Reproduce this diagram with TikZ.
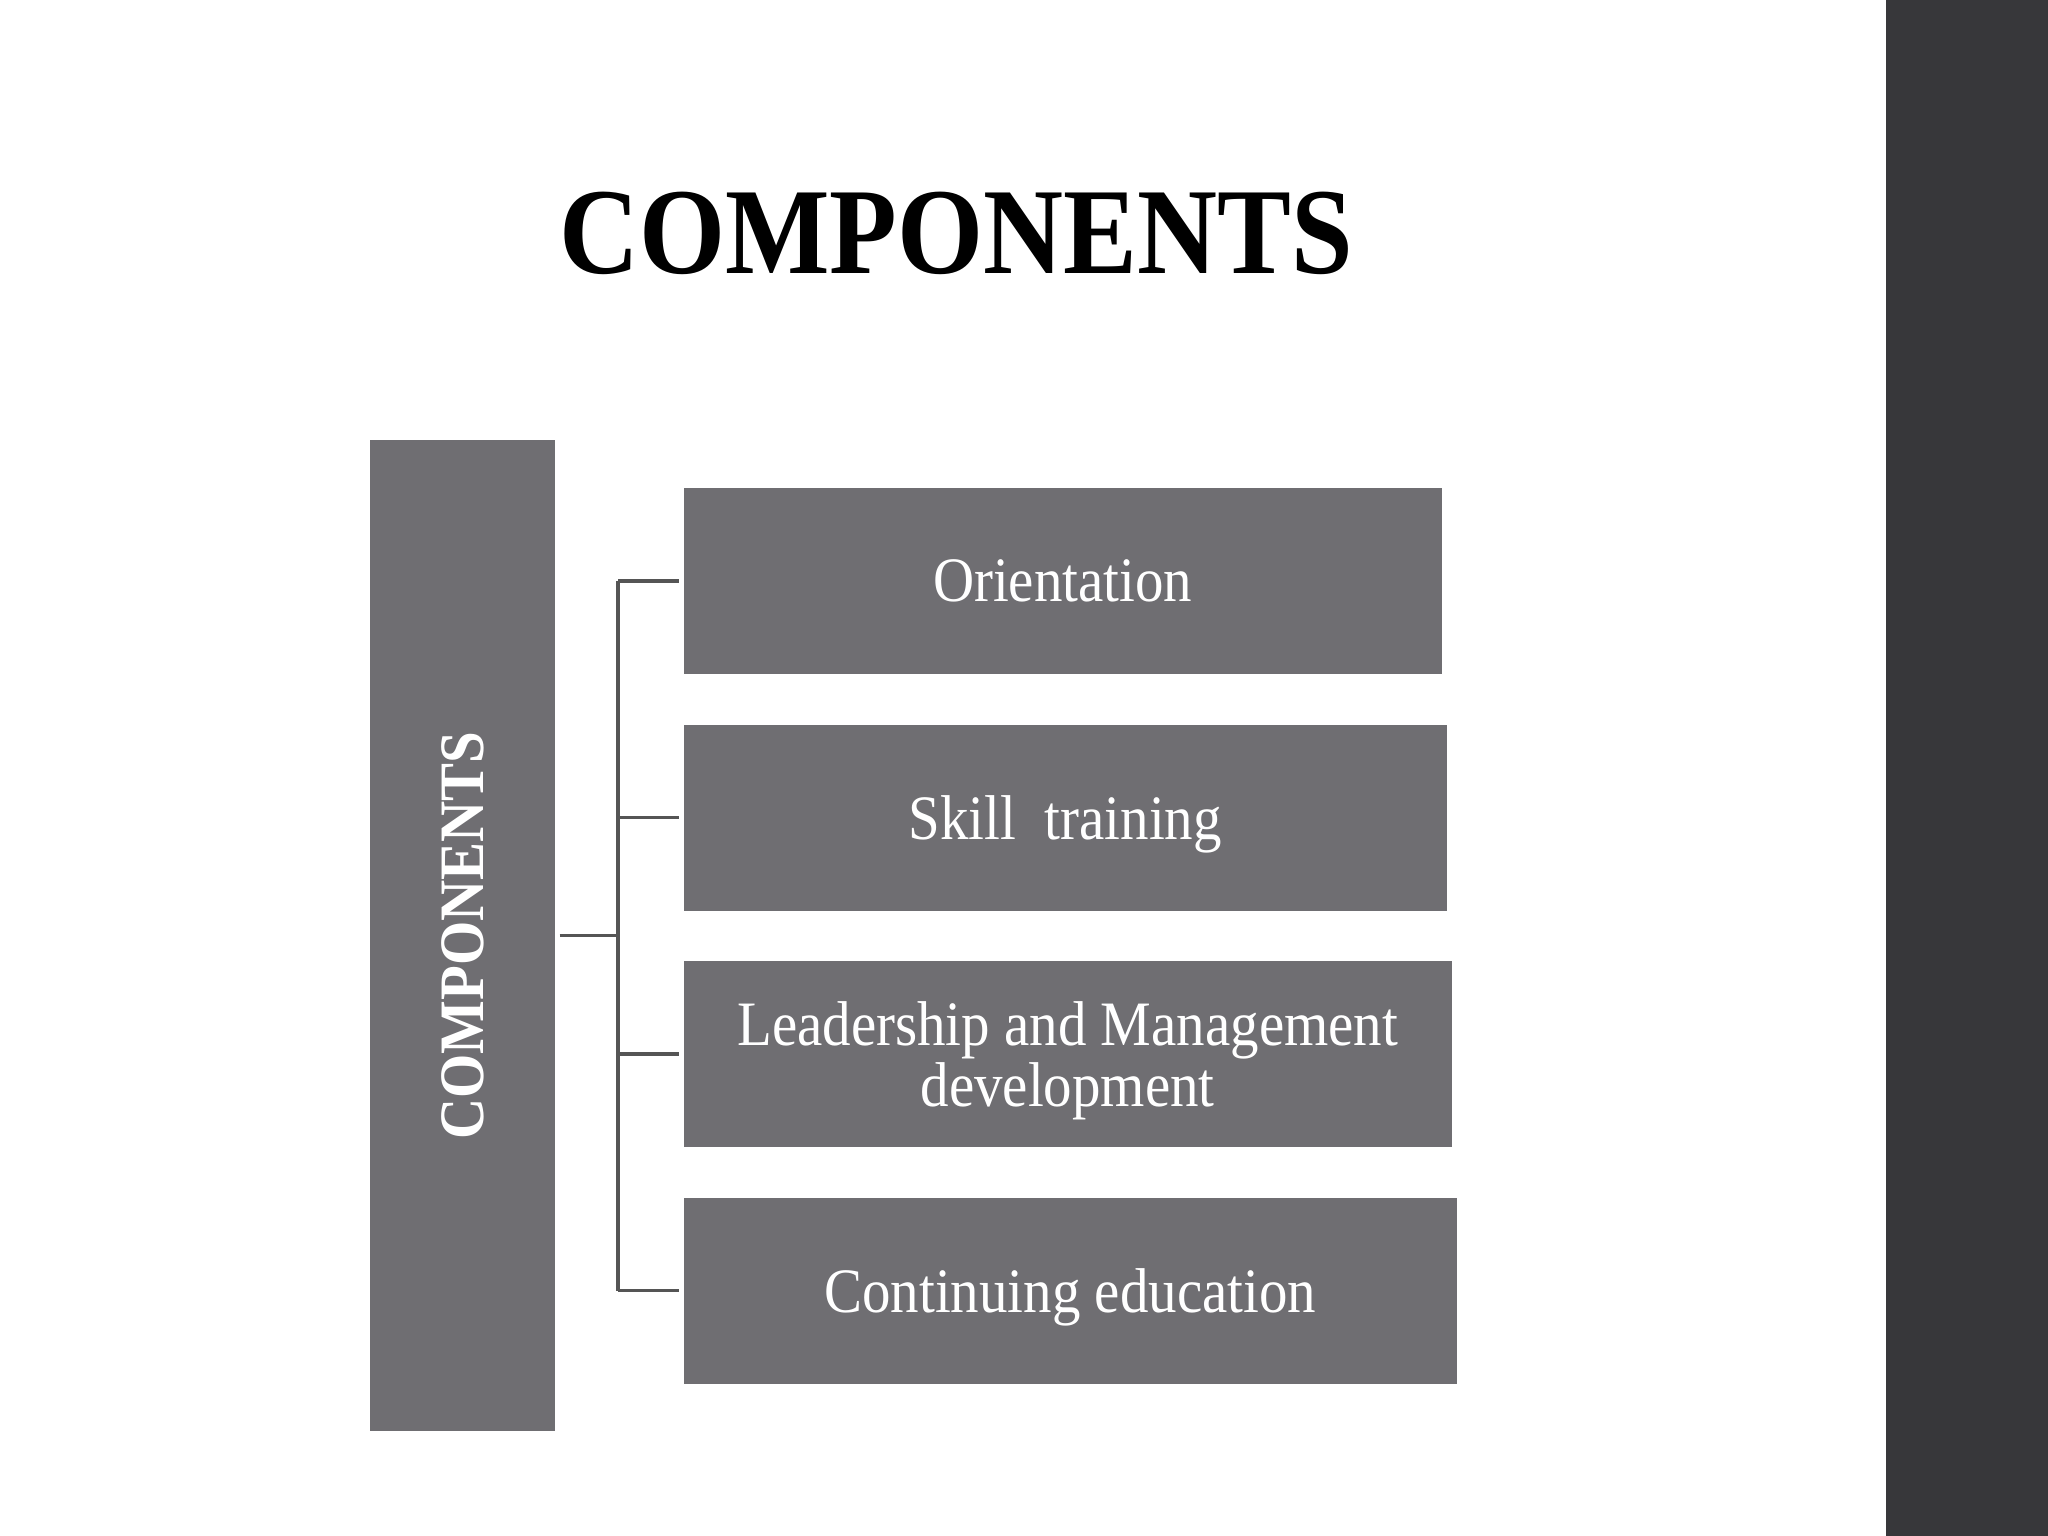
\documentclass[tikz,border=0pt]{standalone}
\usepackage{fontspec}
\setmainfont{Liberation Serif}[FakeStretch=0.9]
\usetikzlibrary{positioning}
\definecolor{boxgray}{RGB}{111,110,114}
\definecolor{bargray}{RGB}{55,55,58}
\definecolor{linegray}{RGB}{85,85,85}
\tikzset{
    comp/.style={fill=boxgray, text=white, align=center, anchor=west, text depth=0pt,
        minimum height=1.86cm, inner sep=0pt, font=\fontsize{18}{16}\selectfont},
    branch/.style={draw=linegray, line width=1pt},
}

\begin{document}
\begin{tikzpicture}
\useasboundingbox (0,0) rectangle (20.48,-15.36);
\fill [bargray] (18.86,0) rectangle (20.48,-15.36);

\node [anchor=base, font=\fontsize{35}{40}\selectfont\bfseries] (title) at (9.56,-2.74) {COMPONENTS};

\node [fill=boxgray, minimum width=1.85cm, minimum height=9.91cm, inner sep=0pt] (main) at (4.625,-9.355) {};
\node [rotate=90, text=white, font=\fontsize{18}{16}\selectfont\bfseries] (mainlabel) at (main.center) {COMPONENTS};

\node [comp, minimum width=7.58cm] (orient) at (6.83,-5.81) {Orientation};
\node [comp, minimum width=7.63cm] (skill) at (6.83,-8.175) {Skill\ \ training};
\node [comp, minimum width=7.68cm] (lead) at (6.83,-10.54) {Leadership and Management\\development};
\node [comp, minimum width=7.73cm] (cont) at (6.83,-12.905) {Continuing education};

\coordinate (trunk) at (6.18,0);
\draw [branch] ([xshift=0.04cm]main.east) -- (main.east -| trunk);
\draw [branch] (orient.west -| trunk) -- (cont.west -| trunk);
\foreach \n in {orient,skill,lead,cont}
    \draw [branch] (\n.west -| trunk) -- ([xshift=-0.04cm]\n.west);

\end{tikzpicture}
\end{document}
